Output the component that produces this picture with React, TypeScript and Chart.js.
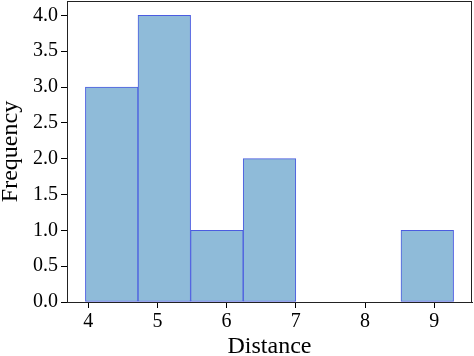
import React, { useEffect, useRef } from "react";
import { Chart, registerables } from "chart.js";

Chart.register(...registerables);

// Histogram bin edges and counts
const binEdges = [3.96, 4.72, 5.48, 6.24, 7.0, 7.76, 8.52, 9.28];
const counts = [3, 4, 1, 2, 0, 0, 1];
const xTicks = [4, 5, 6, 7, 8, 9];
const yTicks = [0, 0.5, 1, 1.5, 2, 2.5, 3, 3.5, 4];
const xLabel = "Distance";
const yLabel = "Frequency";

const FONT = "'Liberation Serif', 'Times New Roman', serif";

const framePlugin = {
  id: "frame",
  afterDraw(chart: any) {
    const { ctx, chartArea } = chart;
    ctx.save();
    ctx.strokeStyle = "#222";
    ctx.lineWidth = 1;
    ctx.strokeRect(
      Math.round(chartArea.left) + 0.5,
      Math.round(chartArea.top) + 0.5,
      Math.round(chartArea.right - chartArea.left) - 1,
      Math.round(chartArea.bottom - chartArea.top)
    );
    ctx.restore();
  },
};

export default function App() {
  const ref = useRef<HTMLCanvasElement | null>(null);
  useEffect(() => {
    document.body.style.margin = "0";
    const centers = counts.map((_, i) => (binEdges[i] + binEdges[i + 1]) / 2);
    const span = binEdges[binEdges.length - 1] - binEdges[0];
    const xMin = binEdges[0] - span * 0.05;
    const xMax = binEdges[binEdges.length - 1] + span * 0.05;
    const yMax = Math.max(...counts) * 1.05;
    const chart = new Chart(ref.current as HTMLCanvasElement, {
      type: "bar",
      data: {
        datasets: [
          {
            data: centers.map((c, i) => ({ x: c, y: counts[i] === 0 ? null : counts[i] })) as any,
            backgroundColor: "#8fbbd9",
            borderColor: "#4b5ce0",
            borderWidth: 1,
            borderSkipped: false,
            barPercentage: 1,
            categoryPercentage: 1,
          },
        ],
      },
      options: {
        animation: false,
        responsive: false,
        layout: { padding: { top: 1, right: 2, left: 0, bottom: 0 } },
        plugins: { legend: { display: false }, tooltip: { enabled: false } },
        scales: {
          x: {
            type: "linear",
            offset: false,
            min: xMin,
            max: xMax,
            afterFit: (s: any) => {
              s.height = 54;
              s.paddingLeft = 0;
              s.paddingRight = 0;
            },
            afterBuildTicks: (s: any) => {
              s.ticks = xTicks.map((v) => ({ value: v }));
            },
            ticks: {
              color: "#000",
              font: { family: FONT, size: 20 },
              padding: 2,
              maxRotation: 0,
              callback: (v: any) => String(v),
            },
            grid: { offset: false, drawOnChartArea: false, drawTicks: true, tickLength: 6, color: "#000" },
            border: { display: true, color: "#222" },
            title: {
              display: true,
              text: xLabel,
              color: "#000",
              font: { family: FONT, size: 24, lineHeight: 1 },
              padding: { top: 0, bottom: -3 },
            },
          },
          y: {
            type: "linear",
            min: 0,
            max: yMax,
            afterFit: (s: any) => {
              s.width = 67;
              s.paddingTop = 0;
              s.paddingBottom = 0;
            },
            afterBuildTicks: (s: any) => {
              s.ticks = yTicks.map((v) => ({ value: v }));
            },
            ticks: {
              color: "#000",
              font: { family: FONT, size: 20 },
              padding: 3,
              callback: (v: any) => Number(v).toFixed(1),
            },
            grid: { drawOnChartArea: false, drawTicks: true, tickLength: 6, color: "#000" },
            border: { display: true, color: "#222" },
            title: {
              display: true,
              text: yLabel,
              color: "#000",
              font: { family: FONT, size: 24, lineHeight: 1 },
              padding: { top: -1, bottom: 0 },
            },
          },
        },
      },
      plugins: [framePlugin],
    });
    return () => chart.destroy();
  }, []);
  return <canvas ref={ref} width={474} height={356} style={{ display: "block" }} />;
}
